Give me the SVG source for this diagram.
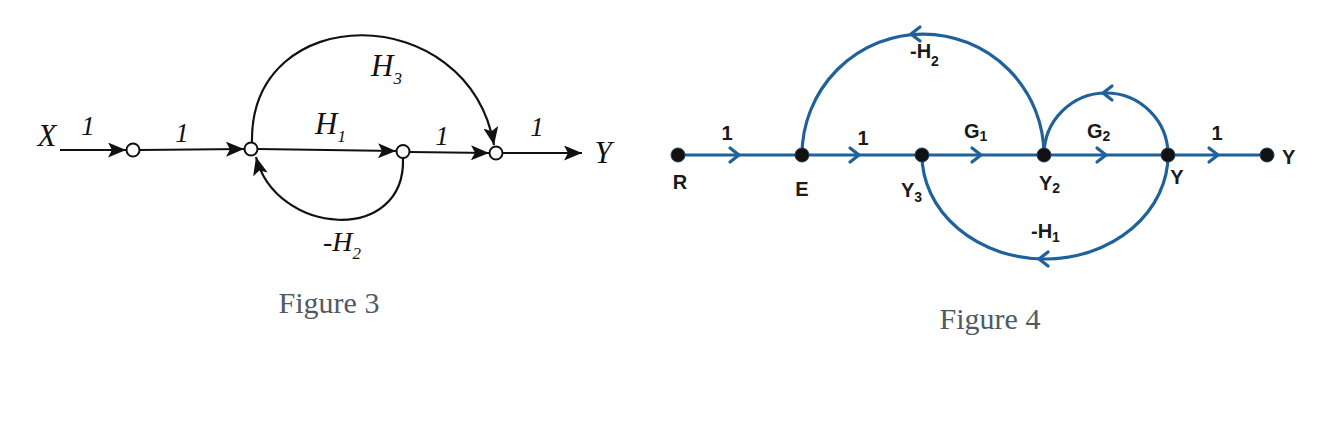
<svg xmlns="http://www.w3.org/2000/svg" xmlns:xlink="http://www.w3.org/1999/xlink" width="1340" height="426" viewBox="0 0 1340 426">
<style>
.bk{fill:none;stroke:#111;stroke-width:2.2}
.on{fill:#fff;stroke:#111;stroke-width:2}
.it{font-family:"Liberation Serif","Times New Roman",serif;font-style:italic;fill:#111}
.cap{font-family:"Liberation Serif","Times New Roman",serif;fill:#505964;font-size:30px;text-anchor:middle}
.bl{fill:none;stroke:#1f619a;stroke-width:3.2}
.dn{fill:#111;stroke:#1f3f5f;stroke-width:1}
.sf{font-family:"Liberation Sans",Arial,sans-serif;font-weight:bold;fill:#1a1a1a;font-size:20px}
.ch{fill:none;stroke:#1f619a;stroke-width:3.2;stroke-linecap:round;stroke-linejoin:round}
</style>
<defs>
<marker id="ah" viewBox="0 0 18 15" refX="18" refY="7.5" markerWidth="18" markerHeight="15" orient="auto" markerUnits="userSpaceOnUse">
<path d="M0,0 L18,7.5 L0,15 L4,7.5 z" fill="#111"/>
</marker>
<path id="chev" d="M-8,-7 L1,0 L-8,7"/>
</defs>
<rect width="1340" height="426" fill="#fff"/>

<!-- Figure 3 -->
<g id="fig3-connectors">
<path class="bk" d="M60,150 L126,150" marker-end="url(#ah)"/>
<path class="bk" d="M140,150 L244,149" marker-end="url(#ah)"/>
<path class="bk" d="M258,149 L396,151" marker-end="url(#ah)"/>
<path class="bk" d="M410,152 L489,153" marker-end="url(#ah)"/>
<path class="bk" d="M503,153 L582,153" marker-end="url(#ah)"/>
<path class="bk" d="M252,143 C249,-1 468,-1 494,145" marker-end="url(#ah)"/>
<path class="bk" d="M403,158 C406,245 276,236 256,157" marker-end="url(#ah)"/>
</g>
<g id="f3-n1"><circle class="on" cx="133" cy="150" r="6.5"/></g>
<g id="f3-n2"><circle class="on" cx="251" cy="149" r="6.5"/></g>
<g id="f3-n3"><circle class="on" cx="403" cy="151.5" r="6.5"/></g>
<g id="f3-n4"><circle class="on" cx="496" cy="153" r="6.5"/></g>
<g id="f3-labels">
<text class="it" x="47" y="146" font-size="31" text-anchor="middle">X</text>
<text class="it" x="88" y="135" font-size="27" text-anchor="middle">1</text>
<text class="it" x="182" y="142" font-size="27" text-anchor="middle">1</text>
<text class="it" x="315" y="134" font-size="31">H<tspan font-size="17" dy="8">1</tspan></text>
<text class="it" x="442" y="145" font-size="27" text-anchor="middle">1</text>
<text class="it" x="371" y="76" font-size="31">H<tspan font-size="17" dy="8">3</tspan></text>
<text class="it" x="537" y="136" font-size="27" text-anchor="middle">1</text>
<text class="it" x="603" y="163" font-size="31" text-anchor="middle">Y</text>
<text class="it" x="323" y="251" font-size="28">-H<tspan font-size="17" dy="8">2</tspan></text>
</g>
<text class="cap" x="329" y="313">Figure 3</text>

<!-- Figure 4 -->
<g id="fig4-connectors">
<path class="bl" d="M678,155 L1267,155"/>
<path class="bl" d="M802,155 A121 121 0 0 1 1044,155"/>
<path class="bl" d="M1044,155 A62 62 0 0 1 1168,155"/>
<path class="bl" d="M922,155 A123 104 0 0 0 1168,155"/>
<use class="ch" xlink:href="#chev" transform="translate(738,155)"/>
<use class="ch" xlink:href="#chev" transform="translate(858,155)"/>
<use class="ch" xlink:href="#chev" transform="translate(980,155)"/>
<use class="ch" xlink:href="#chev" transform="translate(1105,155)"/>
<use class="ch" xlink:href="#chev" transform="translate(1217,155)"/>
<use class="ch" xlink:href="#chev" transform="translate(912,34) rotate(180)"/>
<use class="ch" xlink:href="#chev" transform="translate(1104,93) rotate(180)"/>
<use class="ch" xlink:href="#chev" transform="translate(1040,259) rotate(180)"/>
</g>
<g id="f4-R"><circle class="dn" cx="678" cy="155" r="7"/><text class="sf" x="680" y="189" text-anchor="middle">R</text></g>
<g id="f4-E"><circle class="dn" cx="802" cy="155" r="7"/><text class="sf" x="802" y="196" text-anchor="middle">E</text></g>
<g id="f4-Y3"><circle class="dn" cx="922" cy="155" r="7"/><text class="sf" x="901" y="197">Y<tspan font-size="14" dy="5">3</tspan></text></g>
<g id="f4-Y2"><circle class="dn" cx="1044" cy="155" r="7"/><text class="sf" x="1039" y="190">Y<tspan font-size="14" dy="3">2</tspan></text></g>
<g id="f4-Y"><circle class="dn" cx="1168" cy="155" r="7"/><text class="sf" x="1177" y="184" text-anchor="middle">Y</text></g>
<g id="f4-Yout"><circle class="dn" cx="1267" cy="155" r="7"/><text class="sf" x="1282" y="164">Y</text></g>
<g id="f4-labels">
<text class="sf" x="727" y="140" text-anchor="middle">1</text>
<text class="sf" x="863" y="145" text-anchor="middle">1</text>
<text class="sf" x="964" y="138">G<tspan font-size="14" dy="3">1</tspan></text>
<text class="sf" x="1087" y="138">G<tspan font-size="14" dy="3">2</tspan></text>
<text class="sf" x="1217" y="140" text-anchor="middle">1</text>
<text class="sf" x="910" y="58">-H<tspan font-size="14" dy="8">2</tspan></text>
<text class="sf" x="1031" y="238">-H<tspan font-size="14" dy="4">1</tspan></text>
</g>
<text class="cap" x="990" y="329">Figure 4</text>
</svg>
